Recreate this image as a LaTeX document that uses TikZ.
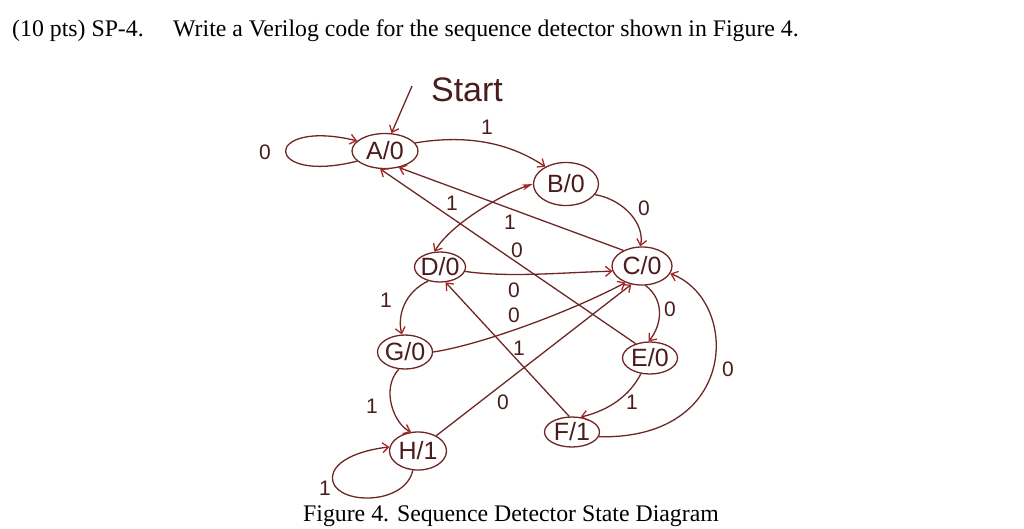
\documentclass[tikz,border=0pt]{standalone}
\usepackage{fontspec}
\setmainfont{Liberation Serif}
\setsansfont{Liberation Sans}
\usetikzlibrary{shapes.geometric,arrows.meta}
\definecolor{ink}{RGB}{110,38,36}
\definecolor{tip}{RGB}{175,35,35}
\definecolor{txt}{RGB}{75,28,28}
\tikzset{
  st/.style={ellipse, draw=ink, line width=1.3pt, inner sep=0pt},
  stl/.style={text=txt, inner sep=0pt, font=\sffamily\fontsize{25}{25}\selectfont},
  tr/.style={draw=ink, line width=1.3pt, -{Straight Barb[length=6pt,width=10pt,color=tip]}},
  trboth/.style={draw=ink, line width=1.3pt, {Stealth[length=11pt,width=6pt,color=tip]}-{Straight Barb[length=6pt,width=10pt,color=tip]}},
  lab/.style={text=txt, inner sep=0pt, font=\sffamily\fontsize{21}{21}\selectfont},
  ttl/.style={inner sep=0pt, anchor=base west, font=\rmfamily\fontsize{23.8}{28}\selectfont},
}
\begin{document}
\begin{tikzpicture}[x=1pt,y=-1pt]
\useasboundingbox (0,0) rectangle (1024,528);
% title and caption
\node[ttl] (t1) at (12,36) {(10 pts) SP-4.};
\node[ttl] (t2) at (173,36) {Write a Verilog code for the sequence detector shown in Figure 4.};
\node[ttl, anchor=base] (cap) at (511,521) {Figure 4. Sequence Detector State Diagram};
% states
\node[st, minimum width=66pt, minimum height=35pt, label={[stl]center:A/0}] (A) at (385,151) {};
\node[st, minimum width=65pt, minimum height=43pt, label={[stl]center:B/0}] (B) at (566,184) {};
\node[st, minimum width=60pt, minimum height=38pt, label={[stl]center:C/0}] (C) at (642,266) {};
\node[st, minimum width=51pt, minimum height=30pt, label={[stl]center:D/0}] (D) at (440,267) {};
\node[st, minimum width=55pt, minimum height=34pt, label={[stl]center:G/0}] (G) at (405,352) {};
\node[st, minimum width=55pt, minimum height=32pt, label={[stl]center:E/0}] (E) at (650,358) {};
\node[st, minimum width=55pt, minimum height=30pt, label={[stl]center:F/1}] (F) at (572,432) {};
\node[st, minimum width=57pt, minimum height=38pt, label={[stl]center:H/1}] (H) at (418,451) {};
% start
\coordinate (s0) at (412,86);
\draw[tr] (s0) -- (A.70);
\node[lab, font=\sffamily\fontsize{34}{34}\selectfont] (sl) at (467,90) {Start};
% transitions
\draw[tr] (A.200) .. controls (262,185) and (262,118) .. (A.160);
\node[lab] (l1) at (265,152) {0};
\draw[tr] (A.15) .. controls (480,132) and (520,150) .. (B.140);
\node[lab] (l2) at (487,127) {1};
\draw[tr] (B.-20) .. controls (625,200) and (645,225) .. (C.95);
\node[lab] (l3) at (644,208) {0};
\draw[trboth] (B.180) .. controls (500,195) and (450,225) .. (D.110);
\node[lab] (l4) at (452,203) {1};
\draw[tr] (C.140) -- (A.-50);
\node[lab] (l5) at (510,222) {1};
\draw[tr] (E.135) -- (A.-105);
\node[lab] (l6) at (517,250) {0};
\draw[tr] (D.-10) .. controls (510,278) and (570,272) .. (C.190);
\node[lab] (l7) at (514,290) {0};
\draw[tr] (G.0) .. controls (480,345) and (570,312) .. (C.225);
\node[lab] (l8) at (514,315) {0};
\draw[tr] (F.100) -- (D.-70);
\node[lab] (l9) at (519,348) {1};
\draw[tr] (H.40) -- (C.-120);
\node[lab] (l10) at (503,402) {0};
\draw[tr] (D.-130) .. controls (405,292) and (397,315) .. (G.100);
\node[lab] (l11) at (386,300) {1};
\draw[tr] (G.-110) .. controls (380,390) and (395,425) .. (H.110);
\node[lab] (l12) at (372,406) {1};
\draw[tr] (H.-105) .. controls (405,505) and (340,505) .. (333,482) .. controls (328,462) and (360,450) .. (H.172);
\node[lab] (l13) at (325,488) {1};
\draw[tr] (C.-80) .. controls (665,300) and (662,325) .. (E.95);
\node[lab] (l14) at (670,309) {0};
\draw[tr] (E.-120) .. controls (630,395) and (610,410) .. (F.60);
\node[lab] (l15) at (632,402) {1};
\draw[tr] (F.-10) .. controls (740,440) and (740,300) .. (C.-15);
\node[lab] (l16) at (728,369) {0};
\end{tikzpicture}
\end{document}
